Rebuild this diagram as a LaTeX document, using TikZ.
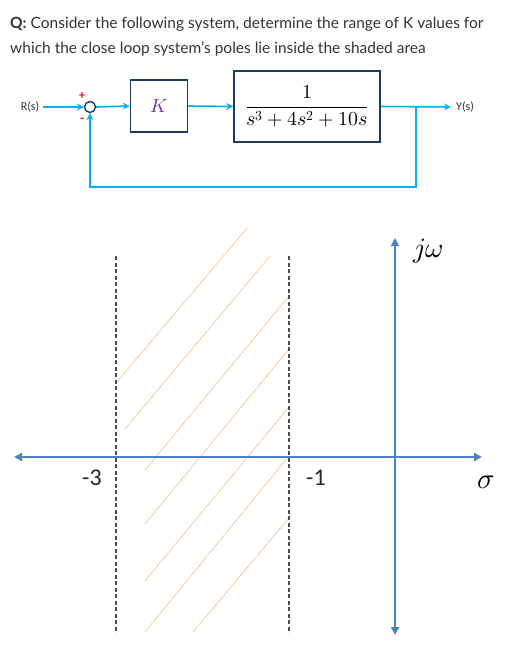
\documentclass[tikz,border=0pt]{standalone}
\usepackage{fontspec}
\usepackage{unicode-math}
\setmainfont{Lato}
\setmathfont{Latin Modern Math}
\newfontfamily\calib{Carlito}
\usetikzlibrary{arrows.meta}
\definecolor{sigblue}{RGB}{0,176,240}
\definecolor{navy}{RGB}{31,56,100}
\definecolor{axblue}{RGB}{79,129,189}
\definecolor{txt}{RGB}{51,51,51}
\definecolor{kpurple}{RGB}{112,48,160}
\definecolor{hatch}{RGB}{245,165,105}
\tikzset{
  sig/.style={draw=sigblue, line width=1.6pt},
  sigarrow/.style={sig, -{Stealth[length=7pt,width=7pt,inset=2.5pt]}},
  blk/.style={draw=navy, line width=1.6pt, fill=white, inner sep=0pt},
  axis/.style={draw=axblue, line width=2.2pt, {Triangle[length=8pt,width=8pt]}-{Triangle[length=8pt,width=8pt]}},
  bound/.style={draw=black!70, line width=1.1pt, dash pattern=on 4pt off 2.5pt},
  hatchline/.style={draw=hatch, line width=0.65pt, dash pattern=on 0.9pt off 0.6pt},
  lbl/.style={font=\calib\fontsize{12}{14}\selectfont, text=txt, inner sep=0pt},
  tick/.style={font=\calib\fontsize{24}{28}\selectfont, text=black!85, inner sep=0pt}
}
\begin{document}
\begin{tikzpicture}[x=1pt,y=-1pt]
\useasboundingbox (0,0) rectangle (511,647);
% title
\node[anchor=base west, font=\fontsize{15.5}{18}\selectfont, text=txt, inner sep=0pt] (q1) at (10,29)
  {\textbf{Q:} Consider the following system, determine the range of K values for};
\node[anchor=base west, font=\fontsize{15.5}{18}\selectfont, text=txt, inner sep=0pt] (q2) at (10,54)
  {which the close loop system's poles lie inside the shaded area};
% block diagram
\node[lbl] (R) at (30,107) {R(s)};
\node[circle, draw=navy, line width=1.4pt, minimum size=11pt, inner sep=0pt] (sum) at (90,107) {};
\node[text=red, font=\bfseries\fontsize{12}{12}\selectfont, inner sep=0pt] (plus) at (82,96) {+};
\node[text=red, font=\bfseries\fontsize{12}{12}\selectfont, inner sep=0pt] (minus) at (82,120) {-};
\node[blk, minimum width=57pt, minimum height=52pt] (K) at (159,106) {\fontsize{19}{22}\selectfont$\color{kpurple}K$};
\node[blk, minimum width=146pt, minimum height=71pt] (G) at (307,106.5)
  {\fontsize{19.8}{22}\selectfont$\displaystyle\frac{1}{s^3+4s^2+10s}$};
\coordinate (br) at (416,107);
\coordinate (out) at (451,107);
\node[lbl, anchor=west] (Y) at (456,107) {Y(s)};
\coordinate (fb1) at (416,187);
\coordinate (fb2) at (90,187);
\draw[sigarrow] (R.east) ++(4pt,0) -- (sum.west);
\draw[sigarrow] (sum.east) -- (K.west);
\draw[sigarrow] (K.east) -- (G.west);
\draw[sigarrow] (G.east) -- (out);
\draw[sigarrow] (br) -- (fb1) -- (fb2) -- (sum.south);
% s-plane
\coordinate (xl) at (14,457);
\coordinate (xr) at (482,457);
\coordinate (yt) at (395,238);
\coordinate (yb) at (395,635);
\foreach \a/\b/\c/\d in {116/383/248/227, 125/429/270/256, 145/470/289/296, 145/524/289/349, 145/581/289/407, 145/632/289/456, 193/632/289/518}
  \draw[hatchline] (\a,\b) -- (\c,\d);
\draw[bound] (116,256) -- (116,633);
\draw[bound] (289,256) -- (289,633);
\draw[axis] (xl) -- (xr);
\draw[axis] (yt) -- (yb);
\node[tick] (m3) at (92,478) {-3};
\node[tick] (m1) at (316,478) {-1};
\node[font=\fontsize{28}{30}\selectfont, inner sep=0pt] (jw) at (428,251) {$j\omega$};
\node[font=\fontsize{29}{30}\selectfont, inner sep=0pt] (sg) at (486,482) {$\sigma$};
\end{tikzpicture}
\end{document}
